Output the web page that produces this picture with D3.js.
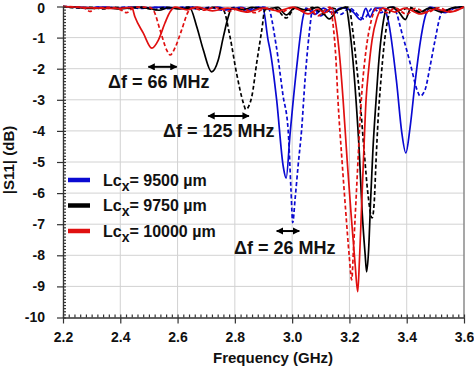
<!DOCTYPE html>
<html>
<head>
<meta charset="utf-8">
<script src="https://cdn.jsdelivr.net/npm/d3@7"></script>
<style>
  body { margin: 0; background: #fff; }
  svg text { font-family: "Liberation Sans", Arial, sans-serif; font-weight: bold; fill: #111; }
</style>
</head>
<body>
<svg id="chart" width="474" height="368"></svg>
<script>
// tick values
const xTicks = [2.2, 2.4, 2.6, 2.8, 3.0, 3.2, 3.4, 3.6];
const yTicks = [0, -1, -2, -3, -4, -5, -6, -7, -8, -9, -10];

// |S11| curves, [GHz, dB]
const blueSolid = [
  [2.200, 0], [2.25, -0.02], [2.30, -0.04], [2.35, -0.02], [2.40, -0.05], [2.45, -0.02],
  [2.50, -0.04], [2.55, -0.02], [2.60, -0.05], [2.65, -0.02], [2.70, -0.06], [2.74, -0.02],
  [2.78, -0.10], [2.82, -0.03], [2.86, -0.12], [2.885, -0.03],
  [2.898, -0.05], [2.916, -1.08], [2.923, -1.40], [2.946, -3.01], [2.969, -5.15], [2.979, -5.52],
  [2.993, -4.07], [3.016, -1.94], [3.038, -0.34], [3.048, -0.05],
  [3.08, -0.25], [3.11, -0.05], [3.14, -0.20], [3.17, -0.04], [3.21, -0.15], [3.24, -0.43],
  [3.257, -0.06], [3.272, -0.34], [3.29, -0.05],
  [3.317, -0.05], [3.335, -0.43], [3.365, -2.46], [3.383, -4.07], [3.397, -4.71], [3.412, -3.87],
  [3.429, -2.46], [3.447, -1.17], [3.464, -0.34], [3.481, -0.02],
  [3.51, -0.10], [3.535, -0.20], [3.56, -0.05], [3.60, -0.02]
];
const blueDash = [
  [2.200, 0], [2.24, -0.03], [2.28, -0.06], [2.32, -0.02], [2.37, -0.05], [2.42, -0.02],
  [2.47, -0.06], [2.52, -0.03], [2.57, -0.07], [2.62, -0.02], [2.67, -0.08], [2.71, -0.03],
  [2.76, -0.12], [2.80, -0.03], [2.84, -0.15], [2.87, -0.03], [2.90, -0.02],
  [2.916, -0.05], [2.944, -1.24], [2.968, -2.85], [2.986, -3.97], [2.996, -5.90], [3.002, -6.95],
  [3.010, -6.22], [3.021, -5.10], [3.033, -3.97], [3.045, -2.36], [3.059, -0.92], [3.073, -0.05],
  [3.10, -0.30], [3.13, -0.05], [3.17, -0.25], [3.20, -0.05], [3.25, -0.40], [3.28, -0.06],
  [3.31, -0.20], [3.335, -0.05],
  [3.352, -0.02], [3.387, -0.98], [3.412, -1.82], [3.436, -2.68], [3.447, -2.88], [3.464, -2.68],
  [3.481, -1.95], [3.499, -1.08], [3.516, -0.34], [3.527, -0.11],
  [3.55, -0.12], [3.57, -0.04], [3.60, -0.02]
];
const blackSolid = [
  [2.200, 0], [2.25, -0.03], [2.30, -0.06], [2.35, -0.04], [2.40, -0.08], [2.45, -0.03],
  [2.50, -0.06], [2.535, -0.12], [2.57, -0.04], [2.61, -0.08],
  [2.643, -0.05], [2.667, -0.65], [2.690, -1.40], [2.719, -2.10], [2.742, -1.72], [2.760, -0.97],
  [2.777, -0.33], [2.789, -0.05],
  [2.83, -0.10], [2.86, -0.03], [2.91, -0.08], [2.95, -0.03], [2.98, -0.27], [3.01, -0.03],
  [3.05, -0.12], [3.09, -0.03], [3.13, -0.40], [3.155, -0.15], [3.175, -0.05],
  [3.188, -0.02], [3.199, -0.59], [3.209, -1.40], [3.223, -3.01], [3.234, -4.61], [3.244, -6.54],
  [3.255, -7.99], [3.260, -8.53], [3.267, -7.83], [3.274, -6.22], [3.282, -4.61], [3.293, -3.01],
  [3.303, -1.72], [3.314, -0.76], [3.328, -0.11], [3.342, -0.02],
  [3.37, -0.15], [3.395, -0.42], [3.415, -0.05], [3.44, -0.20], [3.48, -0.05], [3.52, -0.18],
  [3.56, -0.04], [3.60, -0.02]
];
const blackDash = [
  [2.200, 0], [2.25, -0.04], [2.30, -0.03], [2.34, -0.08], [2.38, -0.03], [2.43, -0.06],
  [2.47, -0.02], [2.52, -0.10], [2.56, -0.03], [2.60, -0.06], [2.64, -0.02], [2.68, -0.08],
  [2.72, -0.03], [2.745, -0.05],
  [2.760, -0.11], [2.783, -0.97], [2.806, -2.15], [2.830, -3.11], [2.838, -3.31], [2.859, -2.90],
  [2.876, -1.83], [2.894, -0.76], [2.905, -0.11],
  [2.94, -0.06], [2.98, -0.37], [3.01, -0.05], [3.04, -0.15], [3.07, -0.03], [3.11, -0.25],
  [3.14, -0.05], [3.16, -0.10], [3.185, -0.03],
  [3.199, -0.02], [3.209, -0.59], [3.223, -1.72], [3.237, -3.01], [3.251, -4.61], [3.265, -6.06],
  [3.279, -6.80], [3.286, -6.38], [3.293, -4.94], [3.300, -3.65], [3.310, -2.36], [3.321, -1.24],
  [3.335, -0.37], [3.352, -0.02],
  [3.38, -0.12], [3.41, -0.03], [3.45, -0.18], [3.49, -0.04], [3.53, -0.15], [3.57, -0.03],
  [3.60, -0.02]
];
const redSolid = [
  [2.200, 0], [2.26, -0.03], [2.33, -0.05], [2.40, -0.06], [2.44, -0.03],
  [2.451, -0.33], [2.480, -0.85], [2.510, -1.34], [2.533, -1.08], [2.556, -0.53], [2.574, -0.17],
  [2.591, -0.02],
  [2.634, -0.11], [2.669, -0.02], [2.722, -0.14], [2.776, -0.05], [2.846, -0.18], [2.898, -0.05],
  [2.951, -0.14], [3.003, -0.02], [3.056, -0.24], [3.091, -0.08], [3.112, -0.21], [3.139, -0.05],
  [3.153, -0.59], [3.167, -1.72], [3.178, -3.01], [3.192, -4.94], [3.206, -6.70], [3.220, -8.31],
  [3.229, -9.17], [3.235, -8.15], [3.242, -6.54], [3.249, -4.94], [3.258, -3.01], [3.267, -2.04],
  [3.279, -1.08], [3.296, -0.37], [3.317, -0.05],
  [3.359, -0.18], [3.394, -0.05], [3.447, -0.24], [3.499, -0.08], [3.551, -0.18], [3.600, -0.02]
];
const redDash = [
  [2.200, 0], [2.25, -0.02], [2.275, -0.05], [2.294, -0.16], [2.315, -0.04], [2.36, -0.03],
  [2.40, -0.10], [2.422, -0.20], [2.44, -0.08], [2.46, -0.02], [2.50, -0.03],
  [2.515, -0.11], [2.539, -0.76], [2.562, -1.40], [2.574, -1.56], [2.591, -1.33], [2.614, -0.76],
  [2.637, -0.17], [2.649, -0.05],
  [2.69, -0.12], [2.73, -0.03], [2.78, -0.15], [2.82, -0.04], [2.87, -0.20], [2.91, -0.05],
  [2.96, -0.18], [3.00, -0.04], [3.04, -0.14], [3.06, -0.08], [3.09, -0.30], [3.115, -0.10],
  [3.132, -0.02], [3.143, -0.59], [3.153, -1.72], [3.160, -3.01], [3.174, -4.94], [3.188, -6.70],
  [3.199, -7.99], [3.208, -8.79], [3.214, -7.83], [3.223, -6.22], [3.230, -4.94], [3.237, -3.65],
  [3.244, -2.68], [3.258, -1.40], [3.275, -0.50], [3.296, -0.05],
  [3.33, -0.20], [3.36, -0.05], [3.40, -0.25], [3.43, -0.06], [3.47, -0.20], [3.51, -0.04],
  [3.55, -0.15], [3.60, -0.02]
];

const legendLabels = ["9500 µm", "9750 µm", "10000 µm"];

// Δf annotations: arrow from f0 to f1 at level y, label anchored at (tf, ty)
const deltas = [
  {f0: 2.498, f1: 2.597, y: -1.94, label: "Δf = 66 MHz", tf: 2.357, ty: -2.62},
  {f0: 2.707, f1: 2.849, y: -3.52, label: "Δf = 125 MHz", tf: 2.549, ty: -4.20},
  {f0: 2.946, f1: 3.025, y: -7.22, label: "Δf = 26 MHz", tf: 2.797, ty: -7.96}
];

const series = [
  {data: blueSolid, color: "#0a0ad2", dash: null},
  {data: blueDash, color: "#0a0ad2", dash: "4,2.5"},
  {data: blackSolid, color: "#000000", dash: null},
  {data: blackDash, color: "#000000", dash: "4,2.5"},
  {data: redSolid, color: "#e01010", dash: null},
  {data: redDash, color: "#e01010", dash: "4,2.5"}
];

const svg = d3.select("#chart");
const m = {left: 63, right: 464, top: 6.5, bottom: 317.5};

const x = d3.scaleLinear().domain([2.2, 3.6]).range([m.left, m.right]);
const y = d3.scaleLinear().domain([-10, 0]).range([m.bottom, m.top]);

// grid
svg.append("g").selectAll("line")
  .data(xTicks.slice(1, -1))
  .enter().append("line")
    .attr("x1", d => x(d)).attr("x2", d => x(d))
    .attr("y1", m.top).attr("y2", m.bottom)
    .attr("stroke", "#d2d2d2").attr("stroke-width", 1);
svg.append("g").selectAll("line")
  .data(yTicks.slice(0, -1))
  .enter().append("line")
    .attr("x1", m.left).attr("x2", m.right)
    .attr("y1", d => y(d)).attr("y2", d => y(d))
    .attr("stroke", "#d2d2d2").attr("stroke-width", 1);

// frame on the right
svg.append("line")
  .attr("x1", m.right).attr("x2", m.right).attr("y1", m.top).attr("y2", m.bottom)
  .attr("stroke", "#8a8a8a").attr("stroke-width", 1.5);

// curves
svg.append("clipPath").attr("id", "plotclip")
  .append("rect").attr("x", m.left).attr("y", m.top - 2)
  .attr("width", m.right - m.left).attr("height", m.bottom - m.top + 2);

const line = d3.line()
  .x(d => x(d[0]))
  .y(d => y(d[1]))
  .curve(d3.curveMonotoneX);

svg.append("g").attr("clip-path", "url(#plotclip)")
  .selectAll("path")
  .data(series)
  .enter().append("path")
    .attr("d", d => line(d.data))
    .attr("fill", "none")
    .attr("stroke", d => d.color)
    .attr("stroke-width", 1.7)
    .attr("stroke-dasharray", d => d.dash);

// axes
svg.append("g")
  .attr("transform", "translate(" + m.left + ",0)")
  .call(d3.axisLeft(y).tickValues(yTicks).tickSize(6).tickSizeOuter(0).tickPadding(12)
    .tickFormat(d => String(d)));
svg.append("g")
  .attr("transform", "translate(" + m.left + ",0)")
  .call(d3.axisRight(y).tickValues(d3.range(-100, 1).map(d => d / 10)).tickSize(3).tickSizeOuter(0)
    .tickFormat(""));

svg.append("g")
  .attr("transform", "translate(0," + m.bottom + ")")
  .call(d3.axisBottom(x).tickValues(xTicks).tickSize(6).tickSizeOuter(0).tickPadding(9)
    .tickFormat(d3.format(".1f")));
svg.append("g")
  .attr("transform", "translate(0," + m.bottom + ")")
  .call(d3.axisTop(x).tickValues(d3.range(110, 181).map(d => d / 50)).tickSize(3).tickSizeOuter(0)
    .tickFormat(""));

svg.selectAll(".domain, .tick line").attr("stroke", "#333").attr("stroke-width", 1.2);
svg.selectAll(".tick text").attr("font-size", 14).attr("fill", "#111");
svg.selectAll("g[font-family]").attr("font-family", null);
// keep the top "0" label inside the picture
svg.selectAll(".tick text").filter(d => d === 0).attr("dy", "0.45em");

// axis titles
svg.append("text")
  .attr("x", 273).attr("y", 363)
  .attr("text-anchor", "middle")
  .attr("font-size", 15)
  .text("Frequency (GHz)");
svg.append("text")
  .attr("transform", "translate(14,160)rotate(-90)")
  .attr("text-anchor", "middle")
  .attr("font-size", 15)
  .text("|S11| (dB)");

// legend
const legend = svg.append("g");
const legendColors = ["#0a0ad2", "#000000", "#e01010"];
legendLabels.forEach(function(lab, i) {
  const ly = 180 + i * 25.5;
  legend.append("line")
    .attr("x1", 68).attr("x2", 90).attr("y1", ly).attr("y2", ly)
    .attr("stroke", legendColors[i]).attr("stroke-width", 4.5);
  const t = legend.append("text").attr("x", 103).attr("y", ly + 5.5).attr("font-size", 16);
  t.append("tspan").text("Lc");
  t.append("tspan").attr("dy", 5).attr("font-size", 14).text("x");
  t.append("tspan").attr("dy", -5).text("= " + lab);
});

// Δf arrows
const defs = svg.append("defs");
defs.append("marker")
  .attr("id", "head")
  .attr("viewBox", "0 0 10 10")
  .attr("refX", 9).attr("refY", 5)
  .attr("markerWidth", 3.6).attr("markerHeight", 3.6)
  .attr("orient", "auto-start-reverse")
  .append("path").attr("d", "M0,0L10,5L0,10Z").attr("fill", "#000");

const ann = svg.append("g");
deltas.forEach(function(d) {
  ann.append("line")
    .attr("x1", x(d.f0)).attr("x2", x(d.f1))
    .attr("y1", y(d.y)).attr("y2", y(d.y))
    .attr("stroke", "#000").attr("stroke-width", 2)
    .attr("marker-start", "url(#head)").attr("marker-end", "url(#head)");
  ann.append("text")
    .attr("x", x(d.tf)).attr("y", y(d.ty))
    .attr("font-size", 18)
    .text(d.label);
});
</script>
</body>
</html>
